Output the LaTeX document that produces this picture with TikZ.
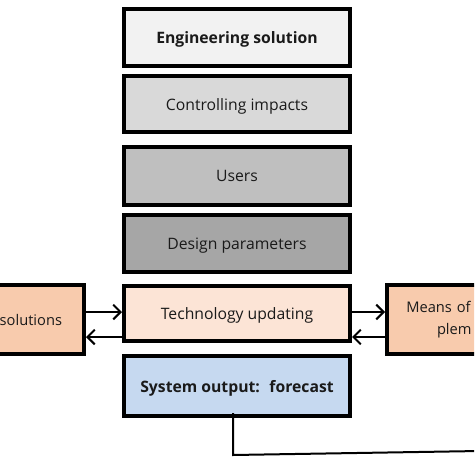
\documentclass[tikz,border=0pt]{standalone}
\usepackage{fontspec}
\setmainfont{Open Sans}
\usepackage{tikz}
\usetikzlibrary{arrows.meta}

\definecolor{gone}{HTML}{F2F2F2}
\definecolor{gtwo}{HTML}{D9D9D9}
\definecolor{gthree}{HTML}{BFBFBF}
\definecolor{gfour}{HTML}{A6A6A6}
\definecolor{peachlight}{HTML}{FCE4D6}
\definecolor{peach}{HTML}{F8CBAD}
\definecolor{skyblue}{HTML}{C6D9F0}
\definecolor{ink}{HTML}{1A1A1A}

\tikzset{
  stack/.style={draw=black,line width=3pt,minimum width=169.5pt,inner sep=0pt,
    text depth=0pt,text=ink,font=\fontsize{11.8}{15}\selectfont},
  side/.style={draw=black,line width=3pt,minimum height=51.75pt,inner ysep=0pt,
    text width=100pt,fill=peach,text=ink,font=\fontsize{11}{17}\selectfont},
  flow/.style={line width=1.5pt,-{Straight Barb[length=5.5pt,width=11pt,line width=1.5pt]}},
  link/.style={line width=1.5pt}
}

\begin{document}
\begin{tikzpicture}[x=0.75pt,y=-0.75pt]
\useasboundingbox (0,0) rectangle (474,474);
\clip (0,0) rectangle (474,474);

\node[stack,fill=gone,minimum height=42.75pt,font=\fontsize{11.8}{15}\selectfont\bfseries] (eng) at (237,37.5) {Engineering solution};
\node[stack,fill=gtwo,minimum height=42pt] (ctrl) at (237,104.5) {Controlling impacts};
\node[stack,fill=gthree,minimum height=43.5pt] (users) at (237,176) {Users};
\node[stack,fill=gfour,minimum height=42.75pt] (design) at (237,243.5) {Design parameters};
\node[stack,fill=peachlight,minimum height=41.25pt] (tech) at (237,313.5) {Technology updating};
\node[stack,fill=skyblue,minimum height=45pt,font=\fontsize{11.8}{15}\selectfont\bfseries] (out) at (237,386) {System output:~ forecast};

\node[side,align=right,inner xsep=16.5pt,anchor=east] (alt) at (86,319.5) {solutions};
\node[side,align=left,inner xsep=14.5pt,anchor=west] (means) at (385,319.5) {Means of\\\hspace*{23pt}plem};

% exchange with the side boxes
\draw[flow] (alt.east |- 0,312) -- (tech.west |- 0,312);
\draw[flow] (tech.west |- 0,337) -- (alt.east |- 0,337);
\draw[flow] (tech.east |- 0,312) -- (means.west |- 0,312);
\draw[flow] (means.west |- 0,337) -- (tech.east |- 0,337);

% output line
\coordinate (tap) at (233,413);
\coordinate (bend) at (233,455);
\coordinate (away) at (480,451);
\draw[link] (tap) -- (bend) -- (away);
\end{tikzpicture}
\end{document}
